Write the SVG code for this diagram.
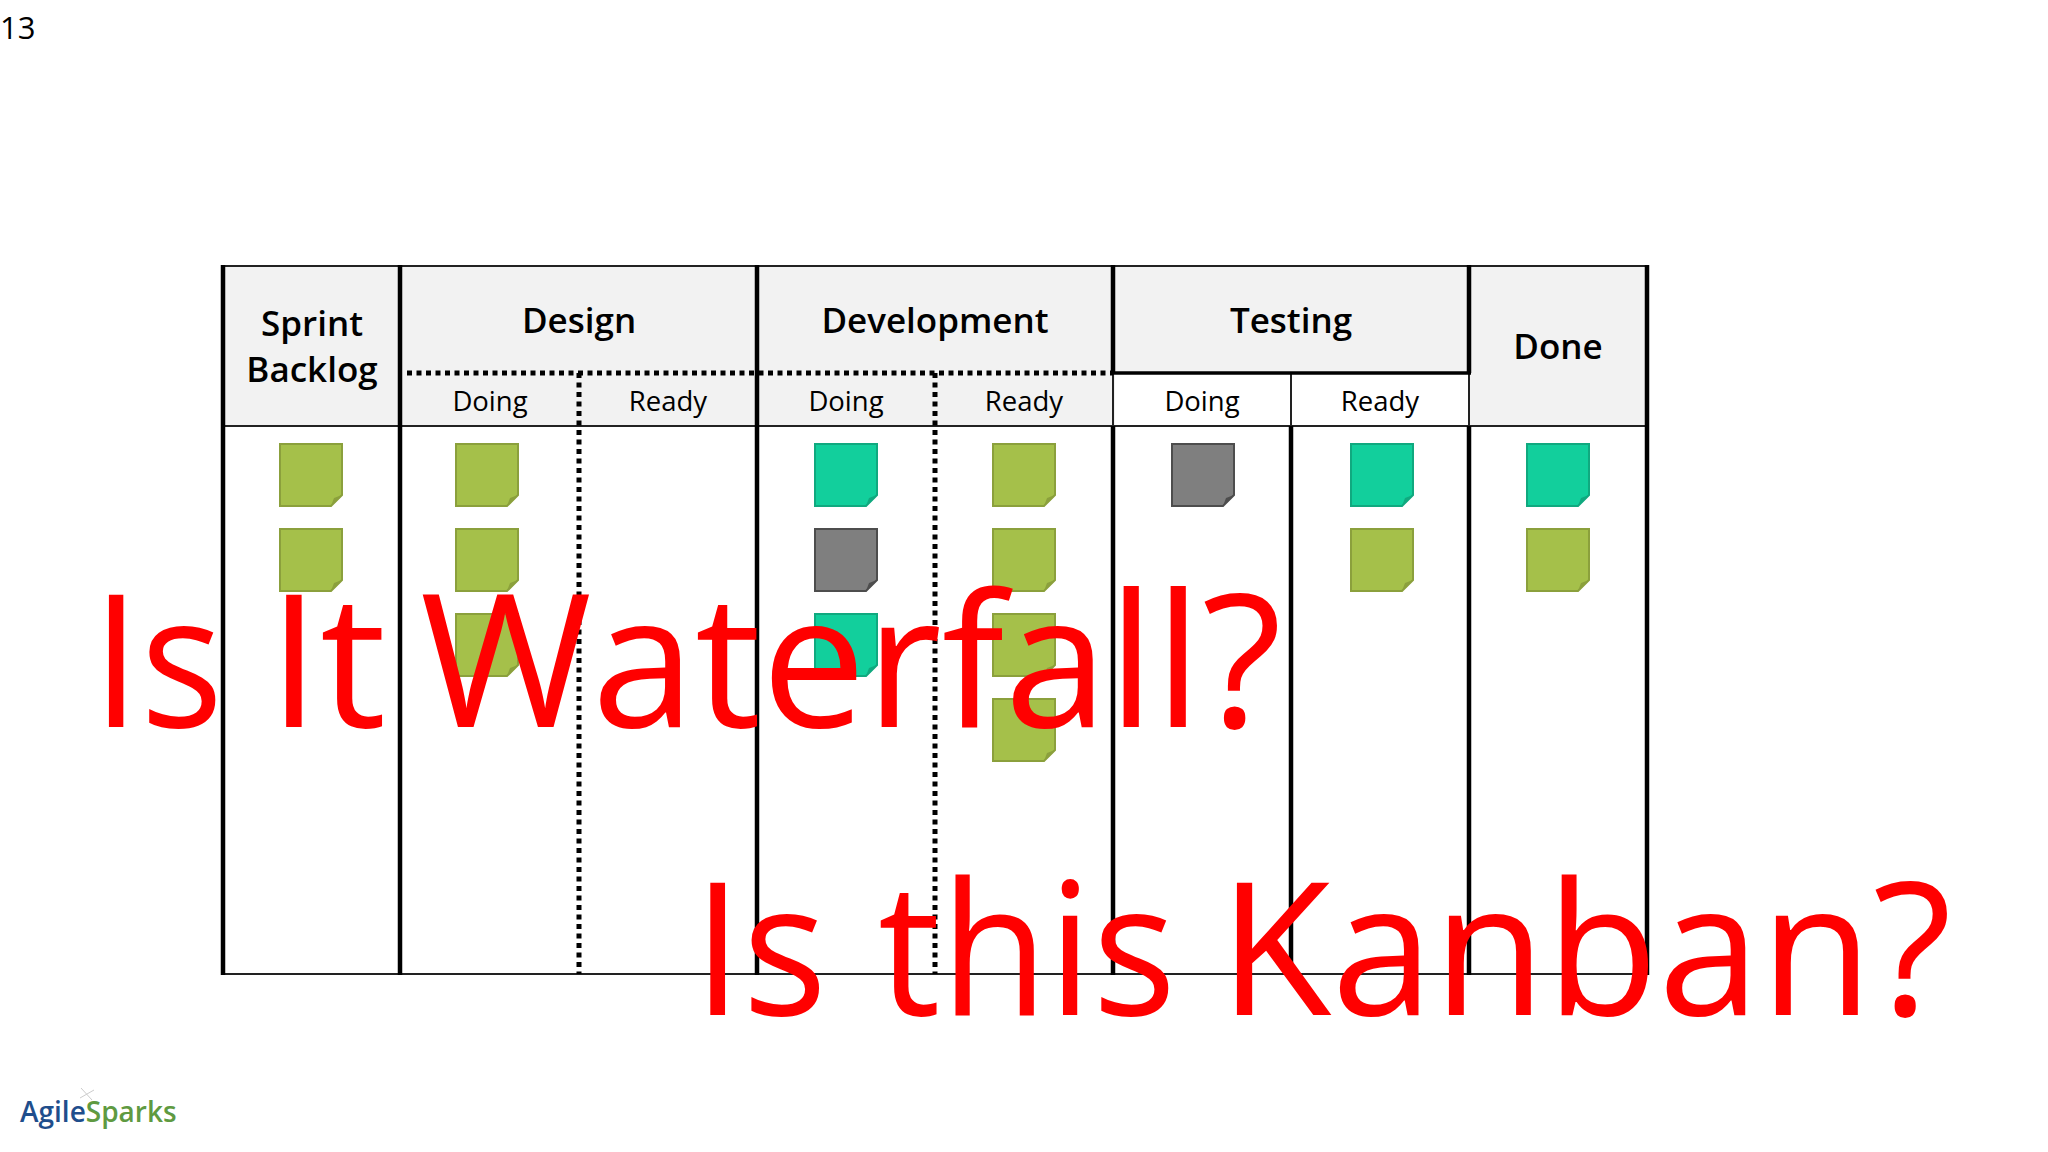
<svg xmlns="http://www.w3.org/2000/svg" width="2048" height="1152" viewBox="0 0 2048 1152">
<style>
.hdr{fill:#f2f2f2}
.t{font-family:"Open Sans","Noto Sans",sans-serif;fill:#000;text-anchor:middle}
.b{font-size:35px;font-weight:600}
.s{font-size:27.5px}
.red{font-family:"Open Sans","Noto Sans",sans-serif;fill:#ff0000;font-size:186px}
.v{stroke:#000;stroke-width:4.5;fill:none}
.thin{stroke:#222;stroke-width:2;fill:none}
.dot{stroke:#000;stroke-width:5;stroke-dasharray:5 4.5;fill:none}
.g{--a:#a5c04a;--b:#8ba03c}
.e{--a:#12cf9c;--b:#10a97f}
.k{--a:#7f7f7f;--b:#4d4d4d}
.p{fill:var(--a);stroke:var(--b);stroke-width:2}
.c{fill:var(--b)}
</style>
<defs>
<g id="note"><path class="p" d="M1 1H63V52L52 63H1Z"/><path class="c" d="M52 63L55 55L63 52Z"/></g>
</defs>
<rect width="2048" height="1152" fill="#fff"/>
<text x="0" y="39" font-family="Open Sans, Noto Sans, sans-serif" font-size="31" fill="#000">13</text>
<g id="headers">
<rect class="hdr" x="223" y="266" width="892" height="160"/>
<rect class="hdr" x="1113" y="266" width="356" height="107"/>
<rect class="hdr" x="1469" y="266" width="178" height="160"/>
</g>
<g id="connectors">
<path class="thin" d="M221 266H1649M223 426H1647M223 974H1647"/>
<path class="v" d="M223 265V975M400 265V975M757 265V975M1113 265V373M1113 426V975M1291 426V975M1469 265V373M1469 426V975M1647 265V975"/>
<path class="thin" d="M1113 373V426M1291 373V426M1469 373V426"/>
<path class="v" style="stroke-width:3.5" d="M1113 373H1471"/>
<path class="dot" d="M407 373H1113M579 373V974M935 373V974"/>
</g>
<g id="col-backlog">
<text class="t b" x="312" y="336">Sprint</text><text class="t b" x="312" y="382">Backlog</text>
<use href="#note" class="g" x="279" y="443"/><use href="#note" class="g" x="279" y="528"/>
</g>
<g id="col-design">
<text class="t b" x="579" y="333">Design</text><text class="t s" x="490" y="411">Doing</text><text class="t s" x="668" y="411">Ready</text>
<use href="#note" class="g" x="455" y="443"/><use href="#note" class="g" x="455" y="528"/><use href="#note" class="g" x="455" y="613"/>
</g>
<g id="col-development">
<text class="t b" x="935" y="333">Development</text><text class="t s" x="846" y="411">Doing</text><text class="t s" x="1024" y="411">Ready</text>
<use href="#note" class="e" x="814" y="443"/><use href="#note" class="k" x="814" y="528"/><use href="#note" class="e" x="814" y="613"/>
<use href="#note" class="g" x="992" y="443"/><use href="#note" class="g" x="992" y="528"/><use href="#note" class="g" x="992" y="613"/><use href="#note" class="g" x="992" y="698"/>
</g>
<g id="col-testing">
<text class="t b" x="1291" y="333">Testing</text><text class="t s" x="1202" y="411">Doing</text><text class="t s" x="1380" y="411">Ready</text>
<use href="#note" class="k" x="1171" y="443"/><use href="#note" class="e" x="1350" y="443"/><use href="#note" class="g" x="1350" y="528"/>
</g>
<g id="col-done">
<text class="t b" x="1558" y="359">Done</text>
<use href="#note" class="e" x="1526" y="443"/><use href="#note" class="g" x="1526" y="528"/>
</g>
<g id="logo">
<path d="M81 1088L92 1100M94 1090L80 1098" stroke="#ccc" stroke-width="1" fill="none"/>
<text x="20" y="1122" font-family="Open Sans, Noto Sans, sans-serif" font-size="28" font-weight="600" fill="#1f4e8c">Agile<tspan fill="#5f9a41">Sparks</tspan></text>
</g>
<g id="overlay">
<text class="red" y="727"><tspan x="92" textLength="131" lengthAdjust="spacingAndGlyphs">Is</tspan> <tspan x="268">It</tspan> <tspan x="420">Waterfall?</tspan></text>
<text class="red" y="1015"><tspan x="693" textLength="134" lengthAdjust="spacingAndGlyphs">Is</tspan> <tspan x="878" textLength="298" lengthAdjust="spacingAndGlyphs">this</tspan> <tspan x="1219" textLength="733" lengthAdjust="spacingAndGlyphs">Kanban?</tspan></text>
</g>
</svg>
